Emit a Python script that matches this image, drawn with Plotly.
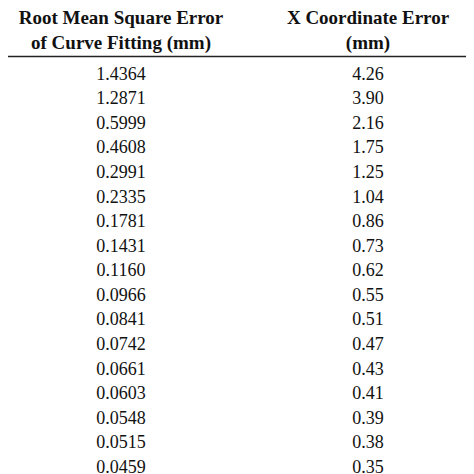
import plotly.graph_objects as go

headers = ["<b>Root Mean Square Error</b><br><b>of Curve Fitting (mm)</b>", "<b>X Coordinate Error</b><br><b>(mm)</b>"]
rmse = ["1.4364", "1.2871", "0.5999", "0.4608", "0.2991", "0.2335", "0.1781", "0.1431", "0.1160",
        "0.0966", "0.0841", "0.0742", "0.0661", "0.0603", "0.0548", "0.0515", "0.0459"]
xerr = ["4.26", "3.90", "2.16", "1.75", "1.25", "1.04", "0.86", "0.73", "0.62",
        "0.55", "0.51", "0.47", "0.43", "0.41", "0.39", "0.38", "0.35"]

rows = list(range(len(rmse)))
font = dict(family="Liberation Serif, DejaVu Serif, serif", size=18, color="#111")

fig = go.Figure()
fig.add_trace(go.Scatter(x=[0]*len(rows), y=rows, text=rmse, mode="text", textfont=font, hoverinfo="skip"))
fig.add_trace(go.Scatter(x=[1]*len(rows), y=rows, text=xerr, mode="text", textfont=font, hoverinfo="skip"))
fig.add_trace(go.Scatter(x=[0, 1], y=[-1.78, -1.78], text=headers, mode="text",
                         textfont=dict(family=font["family"], size=19, color="#111"), hoverinfo="skip"))
fig.add_shape(type="line", xref="paper", x0=0, x1=1, yref="y", y0=-0.77, y1=-0.77,
              line=dict(color="#222", width=1.5))
fig.update_layout(
    width=474, height=474, margin=dict(l=0, r=0, t=0, b=0),
    plot_bgcolor="white", paper_bgcolor="white", showlegend=False,
    xaxis=dict(range=[-0.4575, 1.4615], visible=False),
    yaxis=dict(range=[16.56, -2.74], visible=False),
)
fig.write_html("out.html")
